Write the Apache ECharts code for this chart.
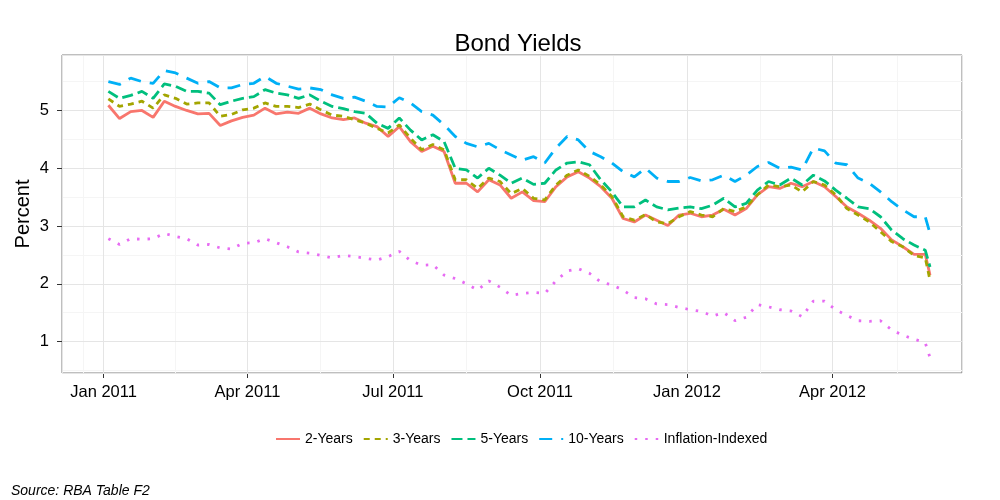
<!DOCTYPE html>
<html>
<head>
<meta charset="utf-8">
<script src="https://cdn.jsdelivr.net/npm/echarts@6/dist/echarts.min.js"></script>
<style>
html,body{margin:0;padding:0;background:#fff;}
#chart{width:1000px;height:500px;}
</style>
</head>
<body>
<div id="chart"></div>
<script>
var dates = [
 '2011-01-04','2011-01-11','2011-01-18','2011-01-25','2011-02-01','2011-02-08','2011-02-15','2011-02-22',
 '2011-03-01','2011-03-08','2011-03-15','2011-03-22','2011-03-29','2011-04-05','2011-04-12','2011-04-19',
 '2011-04-26','2011-05-03','2011-05-10','2011-05-17','2011-05-24','2011-05-31','2011-06-07','2011-06-14',
 '2011-06-21','2011-06-28','2011-07-05','2011-07-12','2011-07-19','2011-07-26','2011-08-02','2011-08-09',
 '2011-08-16','2011-08-23','2011-08-30','2011-09-06','2011-09-13','2011-09-20','2011-09-27','2011-10-04',
 '2011-10-11','2011-10-18','2011-10-25','2011-11-01','2011-11-08','2011-11-15','2011-11-22','2011-11-29',
 '2011-12-06','2011-12-13','2011-12-20','2011-12-27','2012-01-03','2012-01-10','2012-01-17','2012-01-24',
 '2012-01-31','2012-02-07','2012-02-14','2012-02-21','2012-02-28','2012-03-06','2012-03-13','2012-03-20',
 '2012-03-27','2012-04-03','2012-04-10','2012-04-17','2012-04-24','2012-05-01','2012-05-08','2012-05-15',
 '2012-05-22','2012-05-29','2012-06-01'
];
var years2 = [
 5.09,4.86,4.98,5.00,4.88,5.16,5.07,5.00,4.94,4.95,4.74,4.82,4.88,4.92,5.04,4.94,
 4.97,4.95,5.04,4.94,4.87,4.84,4.87,4.78,4.72,4.55,4.72,4.46,4.29,4.38,4.29,3.74,
 3.74,3.59,3.80,3.71,3.48,3.59,3.44,3.42,3.68,3.85,3.94,3.83,3.68,3.48,3.13,3.07,
 3.19,3.10,3.01,3.19,3.22,3.16,3.19,3.29,3.19,3.30,3.54,3.68,3.65,3.74,3.68,3.77,
 3.68,3.51,3.33,3.22,3.10,2.96,2.76,2.64,2.51,2.51,2.15
];
var years3 = [
 5.20,5.07,5.11,5.16,5.04,5.27,5.21,5.11,5.13,5.13,4.90,4.93,5.01,5.04,5.13,5.07,
 5.07,5.05,5.11,5.01,4.92,4.90,4.84,4.78,4.69,4.61,4.75,4.52,4.32,4.41,4.32,3.80,
 3.80,3.65,3.83,3.77,3.56,3.65,3.48,3.45,3.71,3.88,3.97,3.86,3.71,3.51,3.16,3.10,
 3.20,3.07,3.04,3.16,3.25,3.19,3.16,3.30,3.25,3.33,3.54,3.71,3.68,3.71,3.59,3.77,
 3.71,3.54,3.30,3.19,3.07,2.90,2.73,2.64,2.49,2.45,2.06
];
var years5 = [
 5.33,5.21,5.26,5.33,5.21,5.46,5.42,5.33,5.33,5.30,5.10,5.16,5.21,5.24,5.36,5.30,
 5.27,5.21,5.27,5.16,5.07,5.03,4.98,4.95,4.78,4.69,4.87,4.66,4.49,4.58,4.46,4.00,
 3.97,3.83,4.00,3.88,3.74,3.83,3.72,3.74,3.97,4.09,4.11,4.06,3.80,3.59,3.33,3.33,
 3.45,3.33,3.28,3.31,3.33,3.30,3.36,3.48,3.33,3.39,3.62,3.77,3.71,3.83,3.71,3.88,
 3.78,3.62,3.48,3.33,3.30,3.16,2.93,2.78,2.67,2.58,2.29
];
var years10 = [
 5.50,5.45,5.56,5.50,5.47,5.69,5.65,5.56,5.47,5.50,5.39,5.39,5.45,5.47,5.59,5.47,
 5.42,5.37,5.39,5.36,5.27,5.21,5.23,5.16,5.07,5.06,5.22,5.13,4.98,4.92,4.75,4.55,
 4.43,4.37,4.43,4.32,4.23,4.14,4.20,4.09,4.35,4.55,4.49,4.29,4.20,4.09,3.94,3.85,
 4.00,3.83,3.77,3.77,3.84,3.78,3.80,3.88,3.77,3.88,4.03,4.10,4.00,4.02,3.97,4.35,
 4.30,4.09,4.06,3.83,3.74,3.59,3.42,3.28,3.16,3.16,2.87
];
var inflationIndexed = [
 2.78,2.68,2.78,2.77,2.78,2.87,2.82,2.78,2.67,2.68,2.62,2.60,2.70,2.71,2.78,2.71,
 2.64,2.55,2.53,2.49,2.45,2.49,2.47,2.44,2.41,2.47,2.56,2.40,2.32,2.33,2.15,2.09,
 2.00,1.89,2.05,1.94,1.80,1.83,1.85,1.83,2.05,2.22,2.26,2.18,2.03,1.98,1.89,1.76,
 1.74,1.65,1.64,1.59,1.55,1.52,1.44,1.50,1.36,1.42,1.64,1.60,1.55,1.53,1.43,1.70,
 1.70,1.55,1.45,1.36,1.35,1.36,1.20,1.11,1.04,0.98,0.72
];
var seriesNames = ['2-Years','3-Years','5-Years','10-Years','Inflation-Indexed'];
var seriesColors = ['#F8766D','#A3A500','#00BF7D','#00B0F6','#E76BF3'];
var title = 'Bond Yields';
var yTitle = 'Percent';
var sourceNote = 'Source: RBA Table F2';

var FONT = '"Liberation Sans", Arial, Helvetica, sans-serif';
function pairs(vals){ return dates.map(function(d,i){ return [d, vals[i]]; }); }
var allVals = [years2, years3, years5, years10, inflationIndexed];
var dashes = ['solid', [6,5], [11,5], [13,9], [2.5,8]];

var series = allVals.map(function(v,i){
  return {
    name: seriesNames[i],
    type: 'line',
    data: pairs(v),
    showSymbol: false,
    symbol: 'none',
    smooth: false,
    z: 3,
    lineStyle: { color: seriesColors[i], width: 2.8, type: dashes[i], cap: 'butt' },
    itemStyle: { color: seriesColors[i] },
    emphasis: { disabled: true }
  };
});

var tMin = new Date('2010-12-06T00:00:00').getTime();
var tMax = new Date('2012-06-21T00:00:00').getTime();
var Y_MIN = 0.455, Y_MAX = 5.96;

var chart = echarts.init(document.getElementById('chart'), null, {renderer:'canvas'});
chart.setOption({
  animation: false,
  backgroundColor: '#ffffff',
  textStyle: { fontFamily: FONT },
  title: [{
    text: title, left: 513, top: 27, textAlign: 'center',
    textStyle: { fontFamily: FONT, fontSize: 24, fontWeight: 'normal', color: '#000' }
  },{
    text: sourceNote, left: 6, top: 479,
    textStyle: { fontFamily: FONT, fontSize: 14, fontWeight: 'normal', fontStyle: 'italic', color: '#000' }
  }],
  legend: {
    data: seriesNames, left: 270, top: 427,
    itemWidth: 24, itemHeight: 10, itemGap: 10,
    itemStyle: { opacity: 0, borderWidth: 0 },
    textStyle: { fontFamily: FONT, fontSize: 14, color: '#000' }
  },
  grid: { left: 62, right: 38, top: 55, bottom: 127, containLabel: false,
          show: true, borderColor: '#7f7f7f', borderWidth: 1, backgroundColor: 'transparent' },
  xAxis: {
    type: 'time', min: tMin, max: tMax, splitNumber: 6,
    axisLine: { show: false },
    axisTick: { show: true, length: 5, lineStyle: { color: '#333' } },
    axisLabel: {
      fontFamily: FONT, fontSize: 16.5, color: '#000', margin: 11,
      showMinLabel: false, showMaxLabel: false, hideOverlap: false,
      formatter: function(v){ return echarts.time.format(v, '{MMM} {yyyy}', false); }
    },
    splitLine: { show: true, lineStyle: { color: '#e5e5e5', width: 1 } },
    minorTick: { show: false, splitNumber: 2 },
    minorSplitLine: { show: true, lineStyle: { color: '#f5f5f5', width: 1 } }
  },
  yAxis: [{
    type: 'value', min: Y_MIN, max: Y_MAX, minInterval: 1, maxInterval: 1, splitNumber: 5,
    name: yTitle, nameLocation: 'middle', nameGap: 29, nameRotate: 90, nameMoveOverlap: false,
    nameTextStyle: { fontFamily: FONT, fontSize: 20, color: '#000' },
    axisLine: { show: false },
    axisTick: { show: true, length: 5, lineStyle: { color: '#333' } },
    axisLabel: { fontFamily: FONT, fontSize: 16.5, color: '#000', margin: 13,
                 showMinLabel: false, showMaxLabel: false },
    splitLine: { show: true, lineStyle: { color: '#e5e5e5', width: 1 } },
    z: 1
  },{
    type: 'value', min: Y_MIN, max: Y_MAX, minInterval: 0.5, maxInterval: 0.5, splitNumber: 11,
    position: 'left',
    axisLine: { show: false }, axisTick: { show: false }, axisLabel: { show: false },
    splitLine: { show: true, lineStyle: { color: '#f5f5f5', width: 1 } },
    z: 0
  }],
  series: series
});
</script>
</body>
</html>
